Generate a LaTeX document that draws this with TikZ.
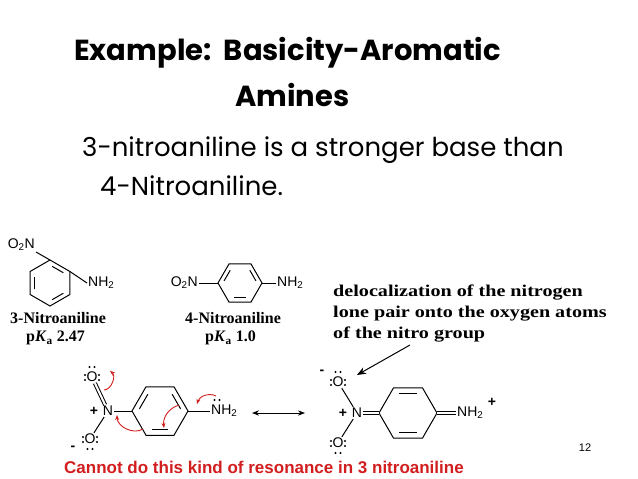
\documentclass[tikz,border=0pt]{standalone}
\usepackage{fontspec}
\setmainfont{Liberation Serif}
\setsansfont{Liberation Sans}
\newfontfamily\titlefont{Poppins}
\newfontfamily\subfont{Poppins}
\usetikzlibrary{arrows.meta,calc}
\definecolor{redA}{RGB}{210,30,30}
\newcommand\hexring[5]{%
  \foreach \i in {1,...,6}{\coordinate (#1\i) at ($(#2)+({#4+60*\i}:#3)$);}
  \draw[bond] (#11)--(#12)--(#13)--(#14)--(#15)--(#16)--cycle;
  \foreach \e/\f in {#5}{\draw[bond,shorten >=2.5pt,shorten <=2.5pt] ($(#2)!0.78!(#1\e)$)--($(#2)!0.78!(#1\f)$);}
}
\begin{document}
\begin{tikzpicture}[x=1pt,y=-1pt,
  bond/.style={line width=1pt},
  atom/.style={font=\sffamily\fontsize{14}{14}\selectfont,inner sep=1pt},
  chg/.style={font=\sffamily\bfseries\fontsize{14}{14}\selectfont,inner sep=0pt},
  lab/.style={font=\bfseries\fontsize{16}{18}\selectfont,inner sep=0,anchor=west},
  dlab/.style={font=\bfseries\fontsize{16.5}{18}\selectfont,inner sep=0,anchor=west,xscale=1.22},
  redarr/.style={redA,line width=0.9pt,-{Stealth[length=5pt,width=4pt]}},
  lp/.style={fill=black,circle,inner sep=0,minimum size=2.3pt}]
\useasboundingbox (0,0) rectangle (638,479);
\fill[white] (0,0) rectangle (638,479);
% titles
\node[font=\titlefont\bfseries\fontsize{29}{30}\selectfont,anchor=west,inner sep=0] (t1) at (74,53) {Example:\ \ Basicity-Aromatic};
\node[font=\titlefont\bfseries\fontsize{29}{30}\selectfont,anchor=west,inner sep=0] (t2) at (235,95) {Amines};
\node[font=\subfont\fontsize{26}{28}\selectfont,anchor=west,inner sep=0] (s1) at (82,150) {3-nitroaniline is a stronger base than};
\node[font=\subfont\fontsize{26}{28}\selectfont,anchor=west,inner sep=0] (s2) at (100,186) {4-Nitroaniline.};
% 3-nitroaniline
\coordinate (cenA) at (50,283);
\hexring{a}{cenA}{23}{-30}{1/2,3/4,5/6}
\node[atom,anchor=south east] (o2n3) at (36,252) {O\textsubscript{2}N};
\draw[bond] (a5) -- (o2n3.south east);
\node[atom,anchor=west] (nh23) at (87,283) {NH\textsubscript{2}};
\draw[bond] (a6) -- (nh23.west);
\node[lab] (l3a) at (10,318) {3-Nitroaniline};
\node[lab] (l3b) at (26,338) {p\textit{K}\textsubscript{a} 2.47};
% 4-nitroaniline
\coordinate (cenB) at (240,283);
\hexring{b}{cenB}{22}{0}{1/2,3/4,5/6}
\node[atom,anchor=east] (o2n4) at (199,283) {O\textsubscript{2}N};
\node[atom,anchor=west] (nh24) at (276,283) {NH\textsubscript{2}};
\draw[bond] (b3) -- (o2n4.east);
\draw[bond] (b6) -- (nh24.west);
\node[lab] (l4a) at (185,318) {4-Nitroaniline};
\node[lab] (l4b) at (205,338) {p\textit{K}\textsubscript{a} 1.0};
% delocalization text
\node[dlab] (d1) at (333,293) {delocalization of the nitrogen};
\node[dlab] (d2) at (333,314) {lone pair onto the oxygen atoms};
\node[dlab] (d3) at (333,335) {of the nitro group};
% left resonance structure
\coordinate (cenC) at (160,411);
\hexring{c}{cenC}{28}{0}{1/2,3/4,5/6}
\node[atom] (n5) at (108,411) {N};
\node[chg] (p5) at (94,411) {+};
\node[atom] (o5t) at (92,377) {O};
\node[atom] (o5b) at (90,439) {O};
\node[chg] (m5) at (73,448) {-};
\node[atom,anchor=west] (nh25) at (210,411) {NH\textsubscript{2}};
\draw[bond,double,double distance=2pt] (n5) -- (o5t);
\draw[bond] (n5) -- (o5b);
\draw[bond] (n5) -- (c3);
\draw[bond] (c6) -- (nh25.west);
\foreach \o/\s in {o5t/1,o5b/-1}{
  \node[lp] at ($(\o)+(-7,-2)$) {};\node[lp] at ($(\o)+(-7,3)$) {};
  \node[lp] at ($(\o)+(7,-2)$) {};\node[lp] at ($(\o)+(7,3)$) {};
  \node[lp] at ($(\o)+(-2.5,-10*\s)$) {};\node[lp] at ($(\o)+(2.5,-10*\s)$) {};}
\node[lp] at (214.5,400) {};\node[lp] at (219.5,400) {};
% red curved arrows
\draw[redarr] (104,390) to[bend right=70] (110,371);
\draw[redarr] (216,396) to[bend right=50] (197,404);
\draw[redarr] (179,405) to[bend right=40] (164,428);
\draw[redarr] (143,429) to[bend left=60] (117,415);
% resonance arrow
\coordinate (ra) at (252,413);
\coordinate (rb) at (305,413);
\draw[line width=1pt,{Stealth[length=7pt]}-{Stealth[length=7pt]}] (ra) -- (rb);
% right resonance structure
\coordinate (cenD) at (408,413);
\hexring{d}{cenD}{29}{0}{1/2,4/5}
\node[atom] (n6) at (357,413) {N};
\node[chg] (p6) at (343,413) {+};
\node[atom] (o6t) at (338,382) {O};
\node[chg] (m6) at (322,372) {-};
\node[atom] (o6b) at (338,443) {O};
\node[atom,anchor=west] (nh26) at (456,413) {NH\textsubscript{2}};
\node[chg] (p7) at (492,402) {+};
\draw[bond] (n6) -- (o6t);
\draw[bond] (n6) -- (o6b);
\draw[bond,double,double distance=2pt] (n6) -- (d3);
\draw[bond,double,double distance=2pt] (d6) -- (nh26.west);
\foreach \o/\s in {o6t/1,o6b/-1}{
  \node[lp] at ($(\o)+(-7,-2)$) {};\node[lp] at ($(\o)+(-7,3)$) {};
  \node[lp] at ($(\o)+(7,-2)$) {};\node[lp] at ($(\o)+(7,3)$) {};
  \node[lp] at ($(\o)+(-2.5,-10*\s)$) {};\node[lp] at ($(\o)+(2.5,-10*\s)$) {};}
% pointer arrow
\coordinate (pa) at (410,345);
\draw[line width=1pt,-{Stealth[length=9pt,width=7pt]}] (pa) -- ($(o6t)+(19,-7)$);
% footer
\node[font=\sffamily\fontsize{11}{11}\selectfont,inner sep=0] (pg) at (585,448) {12};
\node[font=\sffamily\bfseries\fontsize{17}{18}\selectfont,text=redA,anchor=west,inner sep=0] (rt) at (64,467) {Cannot do this kind of resonance in 3 nitroaniline};
\end{tikzpicture}
\end{document}
